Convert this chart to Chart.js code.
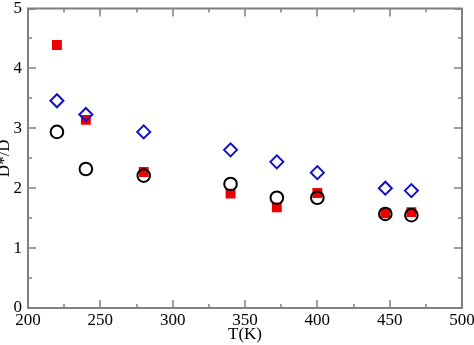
<!DOCTYPE html>
<html>
<head>
<meta charset="utf-8">
<script src="https://cdn.jsdelivr.net/npm/chart.js@4"></script>
<style>
  html, body { margin: 0; padding: 0; background: #fff; }
  #wrap { width: 474px; height: 345px; }
</style>
</head>
<body>
<div id="wrap"><canvas id="c" width="474" height="345"></canvas></div>
<script>
// Temperature (K)
const temperatures = [220, 240, 280, 340, 372, 400, 447, 465];
// D*/D ratios for the three data sets
const diamondSeries = [3.46, 3.23, 2.94, 2.64, 2.44, 2.26, 2.00, 1.96];
const circleSeries  = [2.94, 2.32, 2.21, 2.07, 1.84, 1.84, 1.57, 1.55];
const squareSeries  = [4.39, 3.14, 2.27, 1.91, 1.68, 1.92, 1.58, 1.60];
// Axis ranges and tick spacing
const xRange = [200, 500], xMajor = 50, xMinor = 25;
const yRange = [0, 5], yMajor = 1, yMinor = 0.5;

const pts = (ys) => temperatures.map((t, i) => ({ x: t, y: ys[i] }));
const serif = 'Liberation Serif';
const axisGrey = '#808080';

// Frame with inward major/minor ticks on all four sides
const framePlugin = {
  id: 'frame',
  afterDatasetsDraw(chart) {
    const { ctx, chartArea: a, scales: { x, y } } = chart;
    ctx.save();
    ctx.strokeStyle = axisGrey;
    ctx.lineWidth = 2;
    ctx.strokeRect(a.left, a.top, a.right - a.left, a.bottom - a.top);
    ctx.lineWidth = 1.5;
    ctx.beginPath();
    for (let v = xRange[0]; v <= xRange[1] + 1e-9; v += xMinor) {
      const px = Math.round(x.getPixelForValue(v));
      const len = (Math.abs(v / xMajor - Math.round(v / xMajor)) < 1e-9) ? 8 : 4;
      ctx.moveTo(px, a.bottom); ctx.lineTo(px, a.bottom - len);
      ctx.moveTo(px, a.top); ctx.lineTo(px, a.top + len);
    }
    for (let v = yRange[0]; v <= yRange[1] + 1e-9; v += yMinor) {
      const py = Math.round(y.getPixelForValue(v));
      const len = (Math.abs(v / yMajor - Math.round(v / yMajor)) < 1e-9) ? 8 : 4;
      ctx.moveTo(a.left, py); ctx.lineTo(a.left + len, py);
      ctx.moveTo(a.right, py); ctx.lineTo(a.right - len, py);
    }
    ctx.stroke();
    ctx.restore();
  }
};

new Chart(document.getElementById('c'), {
  type: 'scatter',
  data: {
    datasets: [
      {
        label: 'diamonds',
        data: pts(diamondSeries),
        pointStyle: 'rectRot',
        pointRadius: 6.5,
        pointBorderWidth: 2,
        pointBorderColor: '#1010c8',
        pointBackgroundColor: 'rgba(0,0,0,0)'
      },
      {
        label: 'circles',
        data: pts(circleSeries),
        pointStyle: 'circle',
        pointRadius: 6.3,
        pointBorderWidth: 2,
        pointBorderColor: '#000',
        pointBackgroundColor: 'rgba(0,0,0,0)'
      },
      {
        label: 'squares',
        data: pts(squareSeries),
        pointStyle: 'rect',
        pointRadius: 7,
        pointBorderWidth: 0,
        pointBorderColor: '#ee0000',
        pointBackgroundColor: '#ee0000'
      }
    ]
  },
  options: {
    responsive: false,
    animation: false,
    events: [],
    layout: { padding: { top: 5, right: 12, left: 0, bottom: 0 } },
    plugins: { legend: { display: false }, tooltip: { enabled: false } },
    scales: {
      x: {
        type: 'linear',
        min: xRange[0], max: xRange[1],
        grid: { display: false, drawTicks: false },
        border: { display: false },
        ticks: { stepSize: xMajor, color: '#000', padding: 2, maxRotation: 0,
                 font: { family: serif, size: 17 } },
        title: { display: true, text: 'T(K)', color: '#000', padding: 0,
                 font: { family: serif, size: 17 } },
        afterFit(s) { s.height = 37; s.paddingLeft = 0; s.paddingRight = 0; }
      },
      y: {
        type: 'linear',
        min: yRange[0], max: yRange[1],
        grid: { display: false, drawTicks: false },
        border: { display: false },
        ticks: { stepSize: yMajor, color: '#000', padding: 6,
                 font: { family: serif, size: 17 } },
        title: { display: true, text: 'D*/D', color: '#000', padding: { top: -4, bottom: 0 },
                 font: { family: serif, size: 17, lineHeight: 1 } },
        afterFit(s) { s.width = 28; s.paddingTop = 0; s.paddingBottom = 0; }
      }
    }
  },
  plugins: [framePlugin]
});
</script>
</body>
</html>
